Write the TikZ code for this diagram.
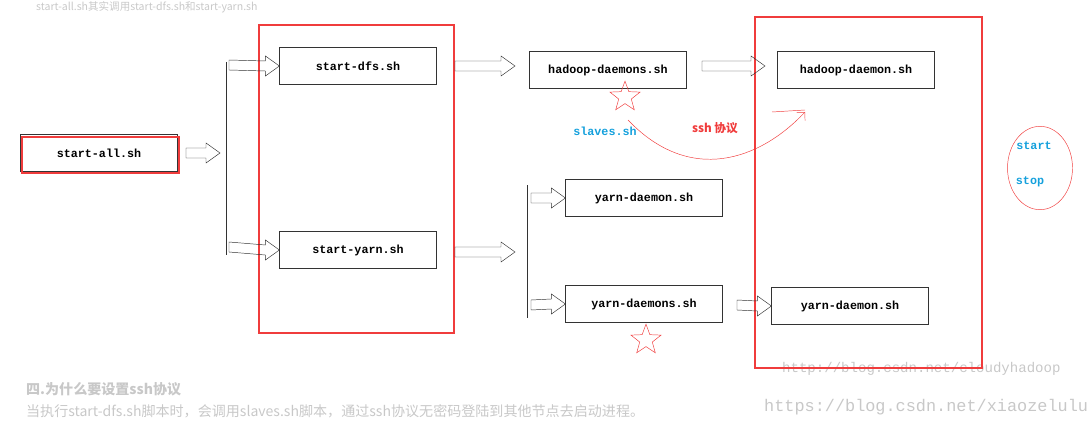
\documentclass[tikz,border=0pt]{standalone}
\usepackage{fontspec}
\setmonofont{Liberation Mono}
\newfontfamily\cjk{Noto Sans CJK SC}
\usetikzlibrary{shapes.geometric,arrows.meta,calc}
\definecolor{hotred}{RGB}{240,60,60}
\definecolor{skyblue}{RGB}{20,160,220}
\definecolor{fade}{RGB}{200,200,200}
\tikzset{
  script/.style={draw=black!80,minimum width=4.7cm,minimum height=1.1cm,font=\ttfamily\bfseries},
  redbox/.style={draw=hotred,line width=1.2pt},
}
% hollow block arrow from (#1) to (#2)
\newcommand\blockarrow[2]{%
  \draw[black!80] ($(#1)+(0,5)$) -- ($(#2)+(-14,5)$) -- ($(#2)+(-14,10)$) -- (#2)
    -- ($(#2)+(-14,-10)$) -- ($(#2)+(-14,-5)$) -- ($(#1)+(0,-5)$) -- cycle;}
\begin{document}
\begin{tikzpicture}[x=0.03cm,y=-0.03cm]
\useasboundingbox (0,0) rectangle (1092,425);

% faded page text
\node[fade,font=\cjk\small,anchor=west] at (32,7) {start-all.sh其实调用start-dfs.sh和start-yarn.sh};
\node[fade,font=\cjk\large\bfseries,anchor=west] (q) at (22,389) {四.为什么要设置ssh协议};
\node[fade,font=\cjk\large,anchor=west] at (22,411) {当执行start-dfs.sh脚本时，会调用slaves.sh脚本，通过ssh协议无密码登陆到其他节点去启动进程。};
\node[fade,font=\ttfamily\large,anchor=west] at (778,369) {http://blog.csdn.net/cloudyhadoop};
\node[fade,font=\ttfamily\Large,anchor=west] at (760,407) {https://blog.csdn.net/xiaozelulu};

% nodes
\node[script] (all) at (99,153) {start-all.sh};
\draw[redbox] (22,137) rectangle (179,173);
\node[script] (dfs) at (358,66) {start-dfs.sh};
\node[script] (yarn) at (358,250) {start-yarn.sh};
\draw[redbox] (259,25) rectangle (454,333);
\node[script] (hds) at (608,70) {hadoop-daemons.sh};
\node[script] (hd) at (856,70) {hadoop-daemon.sh};
\draw[redbox] (755,17) rectangle (982,368);
\node[script] (yd) at (644,198) {yarn-daemon.sh};
\node[script] (yds) at (644,304) {yarn-daemons.sh};
\node[script] (yd2) at (850,306) {yarn-daemon.sh};

% brackets
\draw[black!80] (226,62) -- (226,255);
\draw[black!80] (527,185) -- (527,318);

% block arrows
\coordinate (a1) at (186,153); \coordinate (a2) at (220,153); \blockarrow{a1}{a2}
\coordinate (a3) at (229,65); \blockarrow{a3}{dfs.west}
\coordinate (a4) at (229,247); \blockarrow{a4}{yarn.west}
\coordinate (a5) at (455,66); \coordinate (a6) at (515,66); \blockarrow{a5}{a6}
\coordinate (a7) at (455,252); \coordinate (a8) at (515,252); \blockarrow{a7}{a8}
\coordinate (a9) at (702,66); \coordinate (a10) at (765,66); \blockarrow{a9}{a10}
\coordinate (a11) at (531,198); \blockarrow{a11}{yd.west}
\coordinate (a12) at (531,305); \blockarrow{a12}{yds.west}
\coordinate (a13) at (737,305); \blockarrow{a13}{yd2.west}

% stars
\node[star,star points=5,star point ratio=2.4,draw=hotred,minimum size=0.95cm,inner sep=0pt] (s1) at (625,97) {};
\node[star,star points=5,star point ratio=2.4,draw=hotred,minimum size=0.95cm,inner sep=0pt] (s2) at (646,340) {};

% ssh
\node[skyblue,font=\ttfamily\bfseries] (sl) at (605,131) {slaves.sh};
\node[hotred,font=\cjk\bfseries] (ssh) at (715,128) {ssh 协议};
\coordinate (c1) at (628,120); \coordinate (c2) at (805,112);
\draw[hotred,-{Straight Barb[length=5pt]}] (c1) .. controls (690,185) and (760,160) .. (c2);
\draw[hotred] (772,112) -- (805,110);

% start/stop
\node[ellipse,draw=hotred,minimum width=1.95cm,minimum height=2.5cm] (ss) at (1040,168) {};
\node[skyblue,font=\ttfamily\bfseries] at (1034,146) {start};
\node[skyblue,font=\ttfamily\bfseries] at (1030,182) {stop};
\end{tikzpicture}
\end{document}
